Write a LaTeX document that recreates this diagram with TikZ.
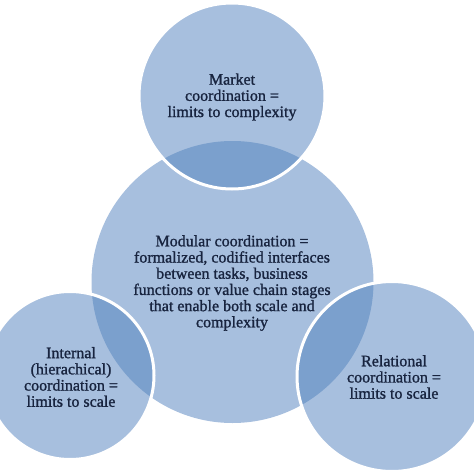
\documentclass[tikz,border=0pt]{standalone}
\usepackage{fontspec}
\setmainfont{Liberation Serif}[FakeBold=1.2]
\definecolor{lightblue}{HTML}{A7BFDE}
\definecolor{darkblue}{HTML}{7BA0CD}
\definecolor{txt}{HTML}{18243F}
\begin{document}
\begin{tikzpicture}[x=1pt,y=-1pt,
  lbl/.style={align=center, text=txt, font=\fontsize{16}{16.2}\selectfont, inner sep=0pt}]
\useasboundingbox (0,0) rectangle (474,474);
\begin{scope}
  \clip (0,0) rectangle (474,474);
  \fill[lightblue] (232.5,282) circle[radius=141];
  \foreach \cx/\cy/\r in {232/96/93, 70/375.5/84, 392/376.5/95} {
    \fill[lightblue] (\cx,\cy) circle[radius=\r];
    \begin{scope}
      \clip (\cx,\cy) circle[radius=\r];
      \fill[darkblue] (232.5,282) circle[radius=141];
    \end{scope}
    \draw[white, line width=3pt] (\cx,\cy) circle[radius=\r];
  }
\end{scope}
\node[lbl] (market) at (232,97) {Market\\coordination =\\limits to complexity};
\node[lbl] (modular) at (232,283) {Modular coordination =\\formalized, codified interfaces\\between tasks, business\\functions or value chain stages\\that enable both scale and\\complexity};
\node[lbl] (internal) at (71,377) {Internal\\(hierachical)\\coordination =\\limits to scale};
\node[lbl] (relational) at (394,377) {Relational\\coordination =\\limits to scale};
\end{tikzpicture}
\end{document}
